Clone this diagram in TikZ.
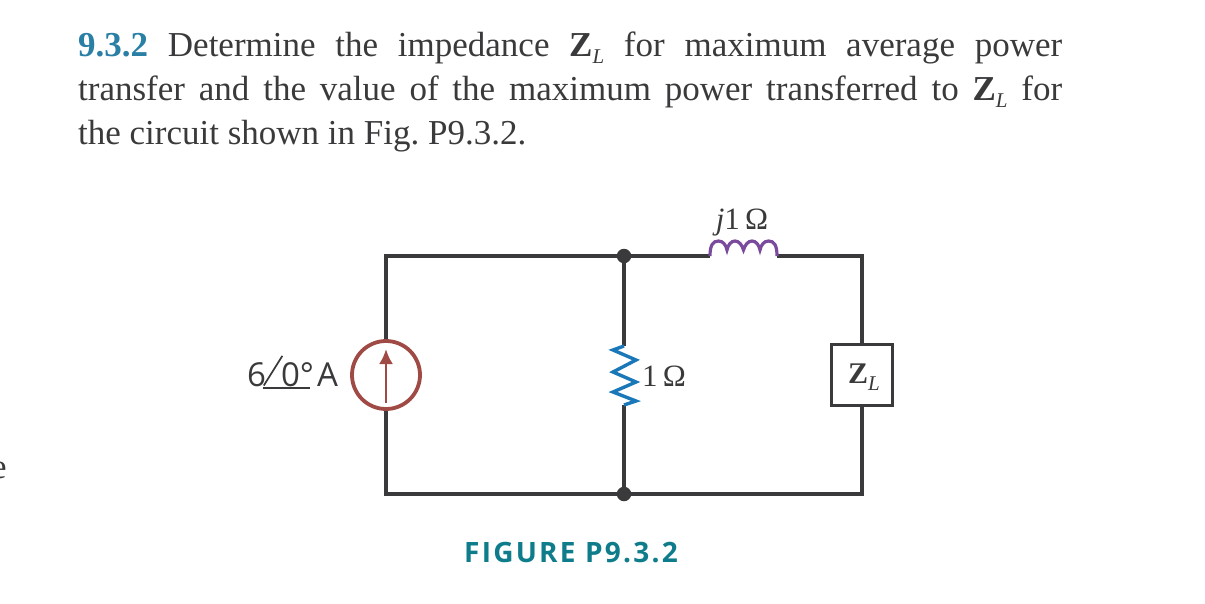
\documentclass[tikz,border=0pt]{standalone}
\usepackage{graphicx}
\usepackage{fontspec}
\setmainfont{Liberation Serif}
\setsansfont{Open Sans}
\newfontfamily\figfont[LetterSpace=8]{Open Sans}
\usetikzlibrary{arrows.meta}
\definecolor{inkgray}{HTML}{3A3A3C}
\definecolor{numblue}{HTML}{2A7FA5}
\definecolor{figteal}{HTML}{0E7C8A}
\definecolor{srcred}{HTML}{A04A45}
\definecolor{resblue}{HTML}{1A78B8}
\definecolor{indpurple}{HTML}{7A4A9C}
\newcommand{\zsub}{\textbf{Z}\raisebox{-7pt}{\fontsize{21}{21}\selectfont\itshape L}}
\newcommand{\fullline}[1]{\hbox to 984pt{#1}}
\tikzset{
  wire/.style={draw=inkgray,line width=3.6pt},
  dot/.style={circle,fill=inkgray,inner sep=0pt,minimum size=14.5pt},
  label/.style={inkgray,inner sep=0pt,font=\fontsize{31}{36}\selectfont},
  srcnode/.style={circle,draw=srcred,fill=white,line width=3.8pt,inner sep=0pt,minimum size=68pt},
  zbox/.style={rectangle,draw=inkgray,fill=white,line width=3.6pt,inner sep=0pt,minimum size=61pt}
}
\begin{document}
\begin{tikzpicture}[x=1pt,y=-1pt]
  \useasboundingbox (0,0) rectangle (1205,603);
  \node[inkgray,inner sep=0pt,anchor=north west,text width=984pt,align=justify,
    font=\fontsize{35}{44}\selectfont] (task) at (78,31.5)
    {\fullline{{\bfseries\color{numblue}9.3.2} Determine the impedance \zsub{} for maximum average power}
    \fullline{transfer and the value of the maximum power transferred to \zsub{} for}
    \hbox{the circuit shown in Fig.~P9.3.2.}};
  \node[inkgray,inner sep=0pt,anchor=base,font=\fontsize{35}{44}\selectfont] (cut) at (-1,478) {e};
  \draw
    (386,256) coordinate (tl)
    (624,256) node[dot] (top) {}
    (710,256) coordinate (la)
    (777,256) coordinate (lb)
    (862,256) coordinate (tr)
    (386,494) coordinate (bl)
    (624,494) node[dot] (bot) {}
    (862,494) coordinate (br)
    (624,346) coordinate (ra)
    (624,405) coordinate (rb)
    (386,403) coordinate (aa)
    (386,349) coordinate (ab);
  % wires
  \begin{scope}[wire]
    \draw (top.center) -- (la);
    \draw[line join=miter] (lb) -- (tr) -- (br) -- (bot.center);
    \draw[line join=miter] (bot.center) -- (bl) -- (tl) -- (top.center);
    \draw (top.center) -- (ra);
    \draw (rb) -- (bot.center);
  \end{scope}
  \node[srcnode] (src) at (386,375) {};
  \node[zbox] (zl) at (862,375) {};
  \node[label,anchor=base west,font=\fontsize{30}{36}\selectfont] (zt) at (848,383) {\zsub};
  \draw[srcred,line width=2.8pt,-{Latex[length=15pt,width=14pt]}] (aa) -- (ab);
  % resistor
  \draw[resblue,line width=3.4pt] (ra) -- (613,350) -- (636,360) -- (613,372)
    -- (636,382) -- (613,392) -- (636,401) -- (rb);
  % inductor
  \draw[indpurple,line width=3.2pt] (la) .. controls (710,245) and (713,241) .. (718.5,241)
    .. controls (723,241) and (726,245) .. (727,250)
    .. controls (728,245) and (731,241) .. (735,241)
    .. controls (739,241) and (742,245) .. (743.5,250)
    .. controls (745,245) and (748,241) .. (752,241)
    .. controls (756,241) and (759,245) .. (760,250)
    .. controls (761,245) and (764,241) .. (768.5,241)
    .. controls (774,241) and (777,245) .. (lb);
  % labels
  \node[label,anchor=base west,font=\fontsize{33}{36}\sffamily] (lsrc) at (247,386)
    {6\kern-3pt\rlap{\raisebox{-3pt}{\rule{47pt}{1.7pt}}}\rotatebox{58}{\rule{35pt}{1.7pt}}\kern-2pt 0°\kern3pt A};
  \node[label,anchor=base west] (lres) at (642,386) {1\,Ω};
  \node[label,anchor=base] (lind) at (742,229) {\textit{j}1\,Ω};
  \node[anchor=base,inner sep=0pt,figteal,font=\fontsize{28}{30}\figfont\bfseries] (fig) at (571,562) {FIGURE P9.3.2};
\end{tikzpicture}
\end{document}
